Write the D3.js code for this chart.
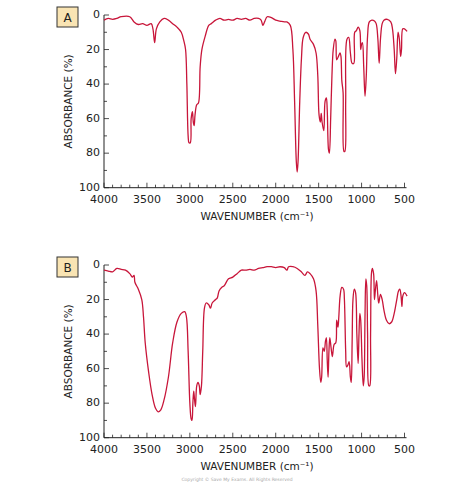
<!DOCTYPE html><html><head><meta charset="utf-8"><script src="https://cdn.jsdelivr.net/npm/d3@7"></script>
<style>body{margin:0;background:#fff}</style></head><body><svg id="c" width="474" height="487"></svg>
<script>
const xTicks=[4000,3500,3000,2500,2000,1500,1000,500];
const yTicks=[0,20,40,60,80,100];
const panelLabels=["A","B"];
const specA=[[4000,3],[3950,2],[3900,2.5],[3850,2],[3800,1],[3700,1],[3650,4],[3600,5.5],[3550,5],[3500,6],[3450,5],[3430,8],[3410,16],[3390,8],[3350,4],[3300,2],[3250,3],[3200,5],[3150,7],[3100,10],[3070,15],[3050,20],[3035,40],[3020,70],[3010,74],[2995,74],[2985,60],[2970,56],[2960,62],[2950,64],[2940,58],[2920,52],[2900,51],[2880,30],[2860,20],[2820,12],[2780,6],[2750,5],[2700,3],[2650,2],[2600,3],[2550,2.5],[2500,3],[2450,2],[2400,2.5],[2350,2],[2300,3],[2250,2],[2200,2],[2170,3],[2150,6],[2130,4],[2100,1],[2050,1.5],[2000,3],[1950,3.5],[1900,4],[1870,4],[1830,6],[1800,20],[1780,50],[1760,85],[1750,91],[1740,85],[1720,50],[1700,25],[1680,13],[1650,10],[1620,11],[1600,14],[1560,17],[1530,22],[1510,35],[1495,58],[1480,62],[1470,57],[1460,62],[1440,67],[1425,50],[1410,48],[1400,55],[1385,78],[1375,80],[1360,60],[1345,35],[1330,20],[1310,14],[1300,15],[1290,26],[1270,24],[1250,22],[1240,24],[1230,38],[1215,45],[1205,79],[1195,79],[1185,50],[1170,14],[1150,13],[1130,22],[1110,28],[1090,28],[1080,10],[1060,9],[1040,7],[1020,9],[1010,20],[1000,17],[990,16],[975,30],[960,47],[945,35],[930,12],[910,4],[880,3],[850,3.5],[830,5],[810,14],[795,28],[780,14],[760,5],[740,3],[700,2.5],[660,4],[640,8],[620,20],[605,34],[590,25],[575,10],[560,14],[545,24],[535,20],[520,8],[500,8],[470,9.5]];
const specB=[[4000,3],[3950,3.5],[3900,4],[3850,2],[3800,2.5],[3750,3],[3700,5],[3670,7],[3650,6],[3640,10],[3600,14],[3560,20],[3540,30],[3520,45],[3480,62],[3440,75],[3400,83],[3370,85],[3340,84],[3300,78],[3250,65],[3200,45],[3150,33],[3100,28],[3060,27],[3040,30],[3020,50],[3000,80],[2985,89],[2975,90],[2965,80],[2955,73],[2945,78],[2935,82],[2920,70],[2905,68],[2890,70],[2880,75],[2865,70],[2850,50],[2830,25],[2810,22],[2780,23],[2760,25],[2740,22],[2700,20],[2680,19],[2660,15],[2630,13],[2600,12],[2550,8],[2500,7],[2450,5],[2400,3],[2350,3],[2300,2.5],[2250,3],[2200,2],[2150,1.5],[2100,1],[2050,1],[2000,1.5],[1950,1],[1900,1.5],[1870,3],[1850,1],[1800,1],[1750,2],[1700,4],[1660,6],[1630,4],[1600,5],[1560,8],[1530,15],[1510,35],[1490,60],[1475,68],[1465,65],[1450,48],[1435,50],[1420,44],[1410,42],[1400,55],[1390,65],[1380,50],[1370,42],[1355,48],[1340,53],[1320,46],[1300,45],[1290,32],[1275,36],[1265,30],[1250,18],[1230,13],[1210,14],[1200,20],[1185,50],[1175,59],[1160,58],[1145,56],[1130,65],[1120,68],[1110,45],[1100,20],[1085,14],[1070,16],[1055,40],[1040,57],[1030,40],[1020,28],[1010,32],[995,55],[980,70],[970,65],[960,30],[950,8],[940,12],[930,40],[915,70],[905,70],[895,40],[885,5],[875,2],[860,5],[850,20],[840,15],[825,9],[810,18],[800,22],[780,17],[760,20],[740,26],[710,32],[680,34],[650,33],[620,28],[590,20],[570,15],[555,14],[540,18],[530,24],[520,18],[500,16],[470,18]];
const svg=d3.select("#c");
const x=d3.scaleLinear().domain([4000,500]).range([104,404.5]);
const font="'DejaVu Sans', Verdana, sans-serif";
function panel(data,label,top){
  const y=d3.scaleLinear().domain([0,100]).range([top,top+172.7]);
  const g=svg.append("g");
  g.selectAll(".mx").data(d3.range(4000,499,-100)).enter().append("line")
   .attr("x1",d=>x(d)).attr("x2",d=>x(d)).attr("y1",y(100)).attr("y2",d=>y(100)-(d%500===0?5:3)).attr("stroke","#222").attr("stroke-width",0.8);
  g.selectAll(".my").data(d3.range(0,101,10)).enter().append("line")
   .attr("y1",d=>y(d)).attr("y2",d=>y(d)).attr("x1",x(4000)).attr("x2",d=>x(4000)+(d%20===0?5:3)).attr("stroke","#222").attr("stroke-width",0.8);
  g.append("line").attr("x1",x(4000)).attr("x2",x(4000)).attr("y1",y(0)).attr("y2",y(100)).attr("stroke","#222");
  g.append("line").attr("x1",x(4000)).attr("x2",x(500)+2).attr("y1",y(100)).attr("y2",y(100)).attr("stroke","#222");
  g.selectAll(".xl").data(xTicks).enter().append("text").attr("x",d=>x(d)).attr("y",y(100)+15)
   .attr("text-anchor","middle").attr("font-family",font).attr("font-size",11).attr("fill","#222").text(d=>d);
  g.selectAll(".yl").data(yTicks).enter().append("text").attr("x",x(4000)-4).attr("y",d=>y(d)+3)
   .attr("text-anchor","end").attr("font-family",font).attr("font-size",11).attr("fill","#222").text(d=>d);
  g.append("text").attr("transform",`translate(72,${y(50)}) rotate(-90)`).attr("text-anchor","middle")
   .attr("font-family",font).attr("font-size",10.5).attr("fill","#222").text("ABSORBANCE  (%)");
  g.append("text").attr("x",257).attr("y",y(100)+32).attr("text-anchor","middle").attr("font-family",font)
   .attr("font-size",10.5).attr("fill","#222").text("WAVENUMBER  (cm\u207B\u00B9)");
  g.append("rect").attr("x",57).attr("y",top-8).attr("width",21).attr("height",20).attr("fill","#f9e4b3").attr("stroke","#333").attr("stroke-width",1);
  g.append("text").attr("x",67.5).attr("y",top+7).attr("text-anchor","middle").attr("font-family",font).attr("font-size",12).attr("fill","#222").text(label);
  g.append("path").datum(data).attr("fill","none").attr("stroke","#c8163a").attr("stroke-width",1.3)
   .attr("d",d3.line().x(d=>x(d[0])).y(d=>y(d[1])).curve(d3.curveCatmullRom.alpha(0.5)));
}
panel(specA,panelLabels[0],15);
panel(specB,panelLabels[1],265);
svg.append("text").attr("x",237).attr("y",481).attr("text-anchor","middle").attr("font-family",font).attr("font-size",4.5).attr("fill","#aaa").text("Copyright © Save My Exams. All Rights Reserved");
</script></body></html>
